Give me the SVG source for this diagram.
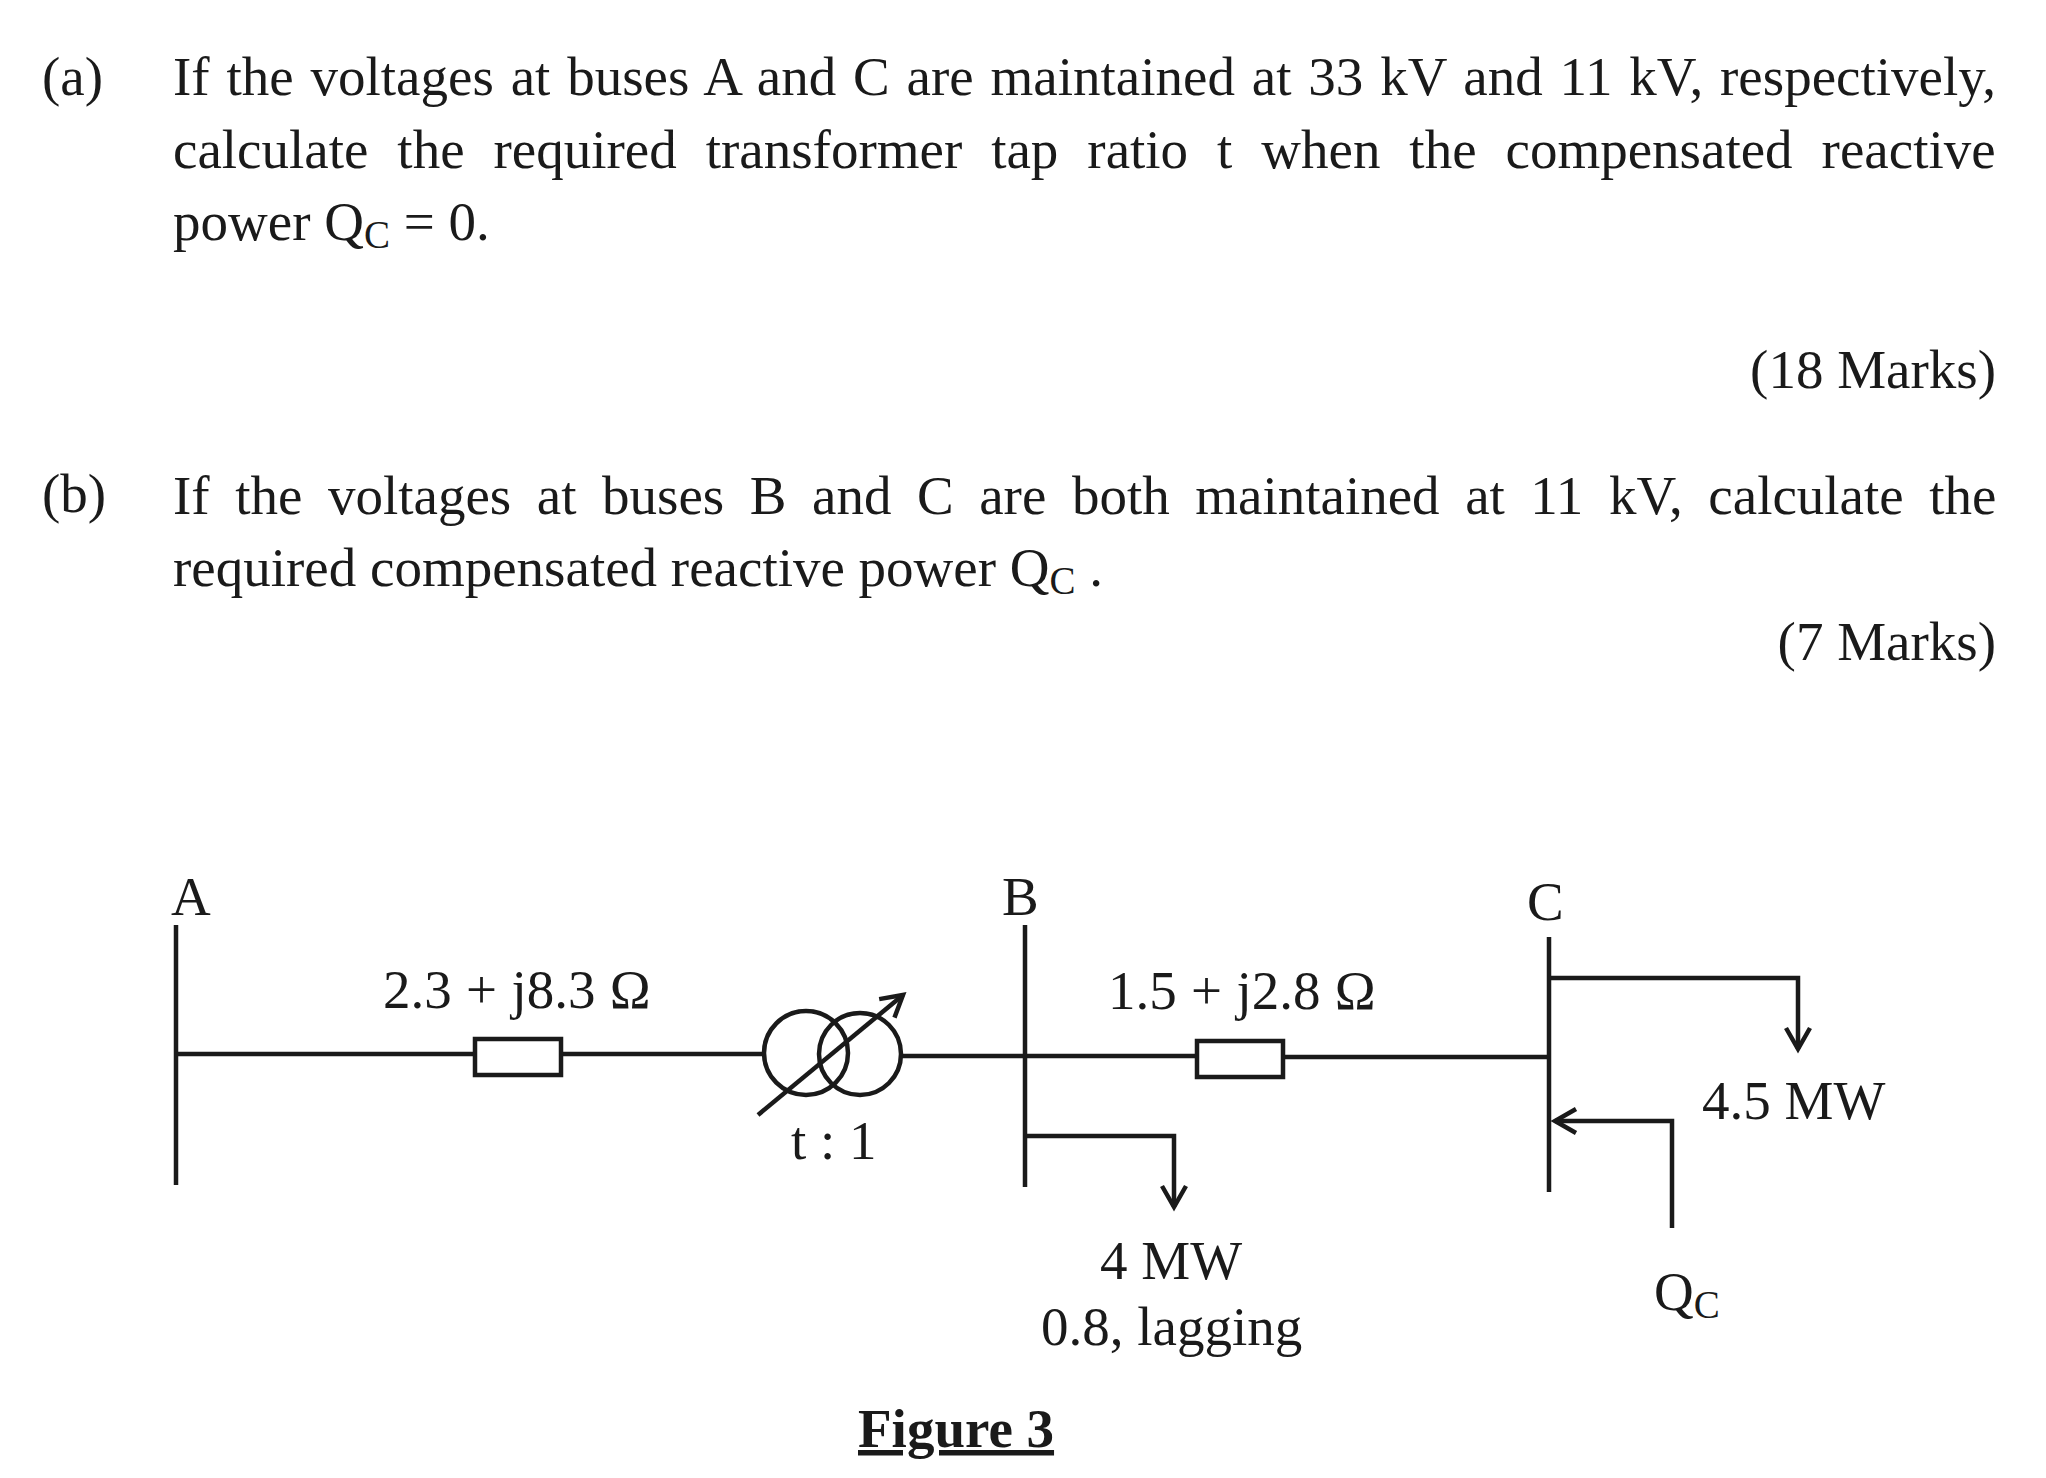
<svg xmlns="http://www.w3.org/2000/svg" width="2046" height="1478" viewBox="0 0 2046 1478">
<style>
text{font-family:"Liberation Serif","Times New Roman",serif;font-size:55px;fill:#1a1a1a}
.l{fill:none;stroke:#1a1a1a;stroke-width:4.5}
.s{font-size:39px}
</style>
<defs><marker id="a" markerWidth="30" markerHeight="30" refX="24" refY="14" orient="auto" markerUnits="userSpaceOnUse"><path d="M3 2L24 14L3 26" fill="none" stroke="#1a1a1a" stroke-width="4.5"/></marker></defs>
<rect width="2046" height="1478" fill="#fff"/>
<text x="42" y="95">(a)</text>
<text x="173" y="95" word-spacing="3.1">If the voltages at buses A and C are maintained at 33 kV and 11 kV, respectively,</text>
<text x="173" y="168" word-spacing="15.2">calculate the required transformer tap ratio t when the compensated reactive</text>
<text x="173" y="240">power Q<tspan class="s" dy="8">C</tspan><tspan dy="-8"> = 0.</tspan></text>
<text x="1996" y="388" text-anchor="end">(18 Marks)</text>
<text x="42" y="512">(b)</text>
<text x="173" y="514" word-spacing="11.8">If the voltages at buses B and C are both maintained at 11 kV, calculate the</text>
<text x="173" y="586">required compensated reactive power Q<tspan class="s" dy="8">C</tspan><tspan dy="-8"> .</tspan></text>
<text x="1996" y="660" text-anchor="end">(7 Marks)</text>
<g id="connectors">
<path class="l" d="M176 1054H475M561 1054H763M901 1056H1025"/>
<path class="l" d="M1025 1056H1197M1283 1057H1549"/>
<path class="l" d="M1026 1136H1174V1207" marker-end="url(#a)"/>
<path class="l" d="M1549 978H1798V1049" marker-end="url(#a)"/>
<path class="l" d="M1672 1228V1121H1555" marker-end="url(#a)"/>
</g>
<g id="bus-a"><path class="l" d="M176 925V1185"/><text x="171" y="915">A</text></g>
<g id="bus-b"><path class="l" d="M1025 925V1187"/><text x="1002" y="915">B</text></g>
<g id="bus-c"><path class="l" d="M1549 937V1192"/><text x="1527" y="920">C</text></g>
<g id="line-ab"><rect class="l" x="475" y="1039" width="86" height="36"/><text x="383" y="1008" word-spacing="0.6">2.3 + j8.3 Ω</text></g>
<g id="line-bc"><rect class="l" x="1197" y="1041" width="86" height="36"/><text x="1108" y="1009" word-spacing="0.6">1.5 + j2.8 Ω</text></g>
<g id="transformer"><circle class="l" cx="806" cy="1053" r="42"/><circle class="l" cx="860" cy="1054" r="41"/><path class="l" d="M758 1115L903 995" marker-end="url(#a)"/><text x="791" y="1159">t : 1</text></g>
<g id="load-b"><text x="1100" y="1279">4 MW</text><text x="1041" y="1345">0.8, lagging</text></g>
<g id="load-c"><text x="1702" y="1119">4.5 MW</text></g>
<g id="qc"><text x="1654" y="1310">Q<tspan class="s" dy="8">C</tspan></text></g>
<g id="caption"><text x="858" y="1447" text-decoration="underline" style="font-weight:bold">Figure 3</text></g>
</svg>
